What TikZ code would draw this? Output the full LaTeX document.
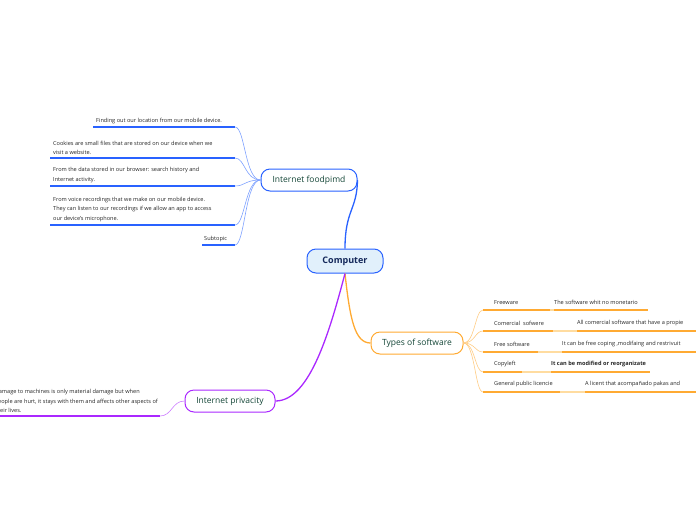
\documentclass[tikz,border=0pt]{standalone}
\usepackage{fontspec}
\setmainfont{Open Sans}
\definecolor{cblue}{RGB}{41,98,255}
\definecolor{corg}{RGB}{255,170,50}
\definecolor{clorg}{RGB}{255,220,160}
\definecolor{cpur}{RGB}{170,40,255}
\definecolor{ctext}{RGB}{20,70,55}
\begin{document}
\begin{tikzpicture}[x=1pt,y=-1pt,
  topic/.style={draw,rounded corners=9pt,line width=1pt,minimum height=22pt,text=ctext,font=\fontsize{8.5}{10}\selectfont},
  small/.style={font=\fontsize{5.6}{9.5}\selectfont,text=black!85,inner sep=0pt,anchor=south west,align=left}]
\useasboundingbox (0,0) rectangle (696,520);
\node[topic,draw=cblue,fill={rgb,255:red,225;green,240;blue,251},minimum width=76pt,minimum height=24pt,text={rgb,255:red,20;green,40;blue,90},font=\fontsize{9}{10}\selectfont\bfseries] (c) at (345,261) {Computer};
\node[topic,draw=cblue,minimum width=96pt,fill=white] (f) at (309,180) {Internet foodpimd};
\node[topic,draw=corg,minimum width=92pt,fill=white] (t) at (417,343) {Types of software};
\node[topic,draw=cpur,minimum width=90pt,fill=white] (p) at (230,401) {Internet privacity};
\draw[cblue,line width=1.3pt] (c.north) .. controls (345,210) and (357,210) .. (f.east);
\draw[corg,line width=1.3pt] (c.south) .. controls (350,320) and (355,343) .. (t.west);
\draw[cpur,line width=1.3pt] (c.south) .. controls (330,330) and (310,401) .. (p.east);
% foodpimd children
\foreach \n/\xa/\y in {a/93/127,b/50/158,c/50/186,d/50/225,e/202/245}{
  \coordinate (f\n l) at (\xa,\y); \coordinate (f\n r) at (235,\y);
  \draw[cblue,line width=1.2pt] (f\n l) -- (f\n r);
  \draw[cblue!60,line width=0.6pt] (f.west) .. controls (245,180) and (245,\y) .. (f\n r);
}
\node[small] at (96,124) {Finding out our location from our mobile device.};
\node[small] at (53,155) {Cookies are small files that are stored on our device when we\\visit a website.};
\node[small] at (53,183) {From the data stored in our browser: search history and\\Internet activity.};
\node[small] at (53,222) {From voice recordings that we make on our mobile device.\\They can listen to our recordings if we allow an app to access\\our device's microphone.};
\node[small] at (204,242) {Subtopic};
% types children
\foreach \n/\y/\le/\vs/\ve/\lab/\val in {
 a/310/550/554/648/Freeware/The software whit no monetario,
 b/331/553/577/696/Comercial\ \ sofwere/All comercial software that have a propie,
 c/352/538/562/696/Free software/It can be free coping {,}modifaing and restrivuit,
 d/372/522/551/650/Copyleft/\textbf{It can be modified or reorganizate},
 e/392/560/585/696/General public licencie/A licent that acompañado pakas and}{
  \coordinate (t\n l) at (483,\y);
  \draw[corg!60,line width=0.6pt] (t.east) .. controls (475,343) and (475,\y) .. (t\n l);
  \draw[corg,line width=1.2pt] (t\n l) -- (\le,\y);
  \draw[clorg,line width=1.2pt] (\le,\y) -- (\vs,\y);
  \draw[corg,line width=1.2pt] (\vs,\y) -- (\ve,\y);
  \node[small] at (494,\y-5) {\lab};
  \node[small] at (\vs,\y-5) {\val};
}
% privacity child
\coordinate (pl) at (0,416); \coordinate (pr) at (160,416);
\draw[cpur,line width=1.2pt] (pl) -- (pr);
\draw[cpur!60,line width=0.6pt] (p.west) .. controls (172,401) and (172,416) .. (pr);
\node[small,anchor=south east] at (158,413) {Damage to machines is only material damage but when\\people are hurt, it stays with them and affects other aspects of\\their lives.};
\end{tikzpicture}
\end{document}
